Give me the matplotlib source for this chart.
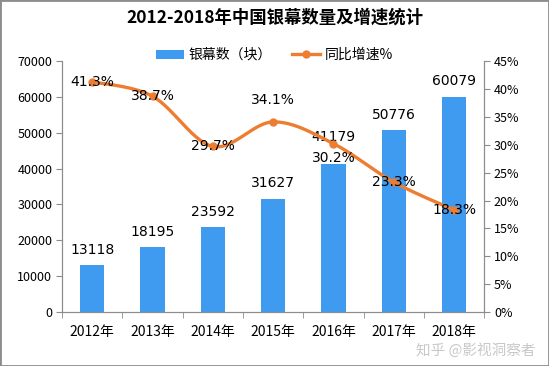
import numpy as np
import matplotlib
matplotlib.use("Agg")
import matplotlib.pyplot as plt
from matplotlib.lines import Line2D
from matplotlib.patches import Patch, Rectangle

plt.rcParams['font.family'] = ['Noto Sans CJK SC', 'DejaVu Sans']

# %%
# data
# %%
years = ["2012年", "2013年", "2014年", "2015年", "2016年", "2017年", "2018年"]
screens = [13118, 18195, 23592, 31627, 41179, 50776, 60079]
growth = [41.3, 38.7, 29.7, 34.1, 30.2, 23.3, 18.3]

bar_color = "#3f9bf0"
line_color = "#ed7d31"
spine_color = "#8c8c8c"


def smooth_curve(xs, ys, n=30):
    # catmull-rom bezier, like the "smoothed line" option in excel
    xs = np.asarray(xs, float)
    ys = np.asarray(ys, float)
    px, py = [], []
    for i in range(len(xs) - 1):
        x0, y0 = (xs[i - 1], ys[i - 1]) if i > 0 else (xs[i], ys[i])
        x3, y3 = (xs[i + 2], ys[i + 2]) if i + 2 < len(xs) else (xs[i + 1], ys[i + 1])
        x1, y1, x2, y2 = xs[i], ys[i], xs[i + 1], ys[i + 1]
        c1 = (x1 + (x2 - x0) / 6, y1 + (y2 - y0) / 6)
        c2 = (x2 - (x3 - x1) / 6, y2 - (y3 - y1) / 6)
        t = np.linspace(0, 1, n)
        px.extend((1 - t) ** 3 * x1 + 3 * (1 - t) ** 2 * t * c1[0] + 3 * (1 - t) * t ** 2 * c2[0] + t ** 3 * x2)
        py.extend((1 - t) ** 3 * y1 + 3 * (1 - t) ** 2 * t * c1[1] + 3 * (1 - t) * t ** 2 * c2[1] + t ** 3 * y2)
    return px, py


# %%
# figure
# %%
fig = plt.figure(figsize=(5.49, 3.66), dpi=100)
ax = fig.add_axes([0.113, 0.1475, 0.769, 0.6855])
ax2 = ax.twinx()

x = np.arange(len(years))
bars = ax.bar(x, screens, width=0.4, color=bar_color, zorder=2)

ax.set_xlim(-0.5, len(years) - 0.5)
ax.set_ylim(0, 70000)
ax.set_yticks(range(0, 70001, 10000))
ax.set_xticks(x)
ax.set_xticklabels(years, fontsize=10)
ax.set_xticks(np.arange(-0.5, len(years), 1), minor=True)
ax.tick_params(axis="x", which="major", length=0, pad=9)
ax.tick_params(axis="x", which="minor", length=4, color=spine_color, direction="out")
ax.tick_params(axis="y", length=4, color=spine_color, labelsize=9, pad=3)

ax2.set_ylim(0, 45)
ax2.set_yticks(range(0, 46, 5))
ax2.set_yticklabels([f"{v}%" for v in range(0, 46, 5)])
ax2.tick_params(axis="y", length=4, color=spine_color, labelsize=9, pad=3)

for a in (ax, ax2):
    a.spines["top"].set_visible(False)
    for s in ("left", "right", "bottom"):
        a.spines[s].set_color(spine_color)

# bar labels
for i, v in enumerate(screens):
    off = 20 if i == 4 else 11
    ax.annotate(str(v), (x[i], v), xytext=(0, off), textcoords="offset points",
                ha="center", va="center", fontsize=10, family="DejaVu Sans")

# growth line
sx, sy = smooth_curve(x, growth)
ax2.plot(sx, sy, color=line_color, lw=2.4, zorder=3)
ax2.plot(x, growth, "o", color=line_color, ms=5, zorder=4)

lbl_off = {3: 16, 4: -10}
for i, g in enumerate(growth):
    ax2.annotate(f"{g}%", (x[i], g), xytext=(0, lbl_off.get(i, 0)), textcoords="offset points",
                 ha="center", va="center", fontsize=10, family="DejaVu Sans", zorder=5)

# title + legend
fig.text(0.5, 1 - 18 / 366, "2012-2018年中国银幕数量及增速统计", ha="center", va="center",
         fontsize=12.5, fontweight="bold")
handles = [Patch(facecolor=bar_color, label="银幕数（块）"),
           Line2D([], [], color=line_color, lw=2.4, marker="o", ms=5, label="同比增速%")]
fig.legend(handles=handles, loc="center", bbox_to_anchor=(0.5, 1 - 55 / 366), ncol=2,
           frameon=False, fontsize=10, handlelength=2.0, handleheight=0.6,
           columnspacing=1.5, handletextpad=0.3)

fig.text(0.975, 1 - 350 / 366, "知乎 @影视洞察者", ha="right", va="center", fontsize=10.5,
         color="#c8c8c8")

fig.patches.append(Rectangle((0, 0), 1, 1, transform=fig.transFigure, fill=False,
                             edgecolor="#8c8c8c", lw=2))

fig.savefig("out.png", dpi=100)
